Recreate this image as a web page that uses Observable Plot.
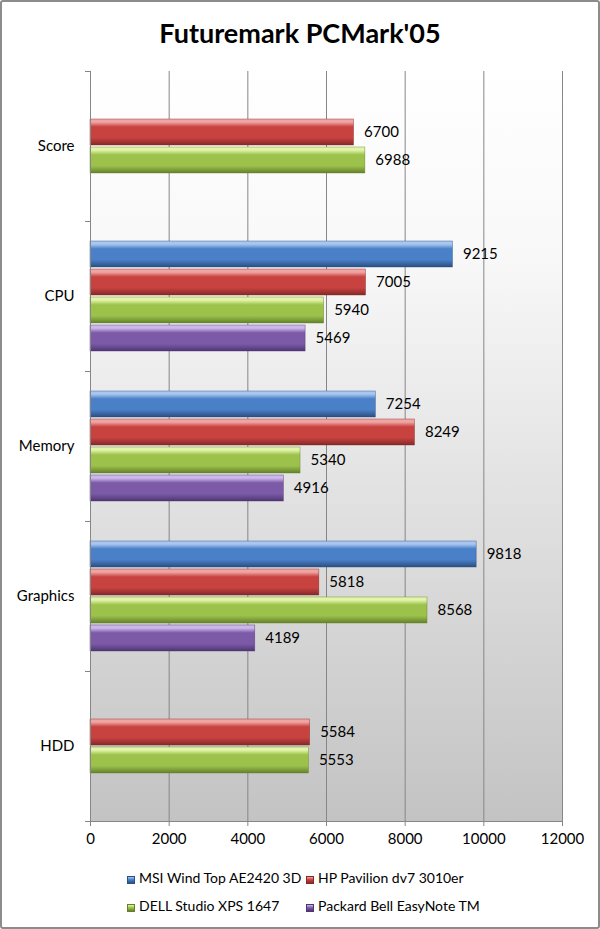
<!DOCTYPE html>
<html><head><meta charset="utf-8">
<script src="https://cdn.jsdelivr.net/npm/d3@7"></script>
<script src="https://cdn.jsdelivr.net/npm/@observablehq/plot@0.6"></script>
<style>
body{margin:0;width:600px;height:929px;position:relative;background:#fff;font-family:Lato,sans-serif;overflow:hidden}
#border{position:absolute;left:0;top:0;width:600px;height:929px;box-sizing:border-box;border:2px solid #8c8c8c;border-radius:3px;pointer-events:none}
#title{position:absolute;left:0;top:14px;width:600px;text-align:center;font-weight:bold;font-size:27px;line-height:38px;color:#000}
#chart{position:absolute;left:0;top:56px}
.leg{position:absolute;font-size:14px;line-height:18px;white-space:nowrap;color:#000}
.sw{display:inline-block;width:8px;height:8px;margin-right:4px;vertical-align:-1px;box-sizing:border-box}
</style></head>
<body>
<div id="title">Futuremark PCMark'05</div>
<div id="chart"></div>
<div id="legend"></div>
<div id="border"></div>
<script>
const categories = ["Score", "CPU", "Memory", "Graphics", "HDD"];
const series = ["MSI Wind Top AE2420 3D", "HP Pavilion dv7 3010er", "DELL Studio XPS 1647", "Packard Bell EasyNote TM"];
const msi  = [null, 9215, 7254, 9818, null];
const hp   = [6700, 7005, 8249, 5818, 5584];
const dell = [6988, 5940, 5340, 8568, 5553];
const pb   = [null, 5469, 4916, 4189, null];
const xTicks = [0, 2000, 4000, 6000, 8000, 10000, 12000];
// light, base, dark per series
const shades = [
  ["#a8c6f0", "#4a80c8", "#2a4f82"],
  ["#f0a5a3", "#c8423f", "#842a28"],
  ["#e2f4a8", "#9cc24b", "#64802c"],
  ["#cdb7ea", "#7c5aa8", "#4e3672"]
];

const valuesBySeries = [msi, hp, dell, pb];
const rows = [];
valuesBySeries.forEach((vals, si) => {
  vals.forEach((v, ci) => { if (v != null) rows.push({category: categories[ci], series: series[si], value: v}); });
});

const W = 600, H = 801, mL = 90, mR = 38, mT = 14, mB = 35;
const grid = "#868686";

const chart = Plot.plot({
  width: W, height: H,
  marginTop: mT, marginBottom: mB, marginLeft: mL, marginRight: mR,
  style: {fontFamily: "Lato, sans-serif", fontSize: "15px", color: "#000", background: "transparent", overflow: "visible"},
  x: {domain: [xTicks[0], xTicks[xTicks.length - 1]], axis: null},
  y: {domain: series, paddingInner: 0.07, paddingOuter: 0.63, axis: null},
  fy: {domain: categories, padding: 0, axis: null},
  marks: [
    Plot.ruleX(xTicks.slice(1), {stroke: grid, strokeWidth: 1}),
    Plot.frame({anchor: "top", insetLeft: -5, insetRight: W - mL - mR, stroke: grid}),
    ...series.map((s, i) => Plot.barX(rows.filter(r => r.series === s), {
      x: "value", y: "series", fy: "category",
      fill: `url(#g${i})`, stroke: shades[i][2], strokeWidth: 0.6, strokeOpacity: 0.7
    })),
    Plot.ruleX([0], {stroke: grid}),
    Plot.frame({anchor: "bottom", insetLeft: -5, fy: [categories[categories.length - 1]], stroke: grid}),
    Plot.text(rows, {
      x: "value", y: "series", fy: "category", text: d => String(d.value),
      textAnchor: "start", dx: 10, fill: "#000", fontSize: 15
    }),
    Plot.axisX({ticks: xTicks, tickFormat: d => String(d), tickSize: 5, tickPadding: 7, stroke: grid, fill: "#000", fontSize: 15, label: null}),
    Plot.axisFy({anchor: "left", tickSize: 0, tickPadding: 16, label: null, fill: "#000", fontSize: 15})
  ]
});

// gradients + plot-area background
const svg = d3.select(chart);
const defs = svg.insert("defs", ":first-child");
shades.forEach((sh, i) => {
  const g = defs.append("linearGradient").attr("id", "g" + i).attr("x1", 0).attr("y1", 0).attr("x2", 0).attr("y2", 1);
  [[0, sh[0]], [0.12, sh[0]], [0.3, sh[1]], [0.72, sh[1]], [1, sh[2]]].forEach(([o, c]) =>
    g.append("stop").attr("offset", o).attr("stop-color", c));
});
const bg = defs.append("linearGradient").attr("id", "bg").attr("x1", 0).attr("y1", 0).attr("x2", 0).attr("y2", 1);
[[0, "#ffffff"], [0.25, "#f8f8f8"], [1, "#c3c3c3"]].forEach(([o, c]) => bg.append("stop").attr("offset", o).attr("stop-color", c));
const xr = chart.scale("x").range;
svg.insert("rect", "defs + *")
  .attr("x", xr[0]).attr("y", mT).attr("width", xr[1] - xr[0]).attr("height", H - mT - mB)
  .attr("fill", "url(#bg)");

document.getElementById("chart").appendChild(chart);

// legend (HTML, below the SVG)
const legend = document.getElementById("legend");
const legPos = [[127, 869], [306, 869], [127, 897], [306, 897]];
series.forEach((s, i) => {
  const d = document.createElement("div");
  d.className = "leg";
  d.style.left = legPos[i][0] + "px";
  d.style.top = legPos[i][1] + "px";
  const sw = document.createElement("span");
  sw.className = "sw";
  sw.style.background = `linear-gradient(${shades[i][0]}, ${shades[i][1]} 45%, ${shades[i][2]})`;
  sw.style.border = `1px solid ${shades[i][2]}`;
  d.appendChild(sw);
  d.appendChild(document.createTextNode(s));
  legend.appendChild(d);
});
</script>
</body></html>
